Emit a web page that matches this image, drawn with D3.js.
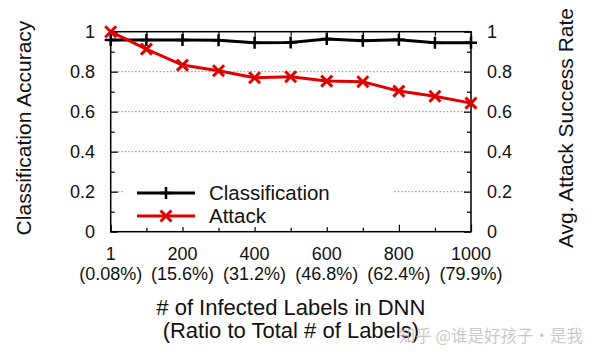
<!DOCTYPE html>
<html><head><meta charset="utf-8">
<script src="https://cdn.jsdelivr.net/npm/d3@7/dist/d3.min.js"></script>
<style>html,body{margin:0;padding:0;background:#fff;}svg{display:block;font-family:"Liberation Sans",Arial,Helvetica,sans-serif;}</style>
</head><body><div id="chart"></div>
<script>
const labels = [1, 100, 200, 300, 400, 500, 600, 700, 800, 900, 1000];
const classification = [0.958, 0.958, 0.958, 0.957, 0.945, 0.946, 0.963, 0.955, 0.960, 0.945, 0.945];
const attack = [1.0, 0.913, 0.833, 0.805, 0.770, 0.775, 0.753, 0.750, 0.703, 0.677, 0.643];
const xTickValues = [1, 200, 400, 600, 800, 1000];
const xTickRatios = ["(0.08%)", "(15.6%)", "(31.2%)", "(46.8%)", "(62.4%)", "(79.9%)"];
const yTickValues = [0, 0.2, 0.4, 0.6, 0.8, 1];
const yTickLabels = ["0", "0.2", "0.4", "0.6", "0.8", "1"];
const seriesNames = ["Classification", "Attack"];

const W = 600, H = 361;
const L = 110.7, R = 471, T = 31.7, B = 231.7;
const svg = d3.select("#chart").append("svg").attr("width", W).attr("height", H);
const x = d3.scaleLinear().domain([1, 1000]).range([L, R]);
const y = d3.scaleLinear().domain([0, 1]).range([B, T]);

// gridlines
svg.append("g").selectAll("line").data([0.2, 0.4, 0.6, 0.8]).join("line")
  .attr("x1", L).attr("x2", R).attr("y1", d => y(d)).attr("y2", d => y(d))
  .attr("stroke", "#888").attr("stroke-width", 1).attr("stroke-dasharray", "1.5,2");

// minor/major ticks via axes (inward)
const tickG = svg.append("g");
function axisNoText(g){ g.selectAll("text").remove(); g.select(".domain").remove(); g.selectAll("line").attr("stroke","#000").attr("stroke-width",1.2); }
tickG.append("g").attr("transform", `translate(${L},0)`).call(d3.axisLeft(y).tickValues(yTickValues).tickSize(-7)).call(axisNoText);
tickG.append("g").attr("transform", `translate(${L},0)`).call(d3.axisLeft(y).tickValues([0.1,0.3,0.5,0.7,0.9]).tickSize(-4)).call(axisNoText);
tickG.append("g").attr("transform", `translate(${R},0)`).call(d3.axisRight(y).tickValues(yTickValues).tickSize(-7)).call(axisNoText);
tickG.append("g").attr("transform", `translate(${R},0)`).call(d3.axisRight(y).tickValues([0.1,0.3,0.5,0.7,0.9]).tickSize(-4)).call(axisNoText);
tickG.append("g").attr("transform", `translate(0,${B})`).call(d3.axisBottom(x).tickValues(xTickValues).tickSize(-7)).call(axisNoText);
tickG.append("g").attr("transform", `translate(0,${B})`).call(d3.axisBottom(x).tickValues([100,300,500,700,900]).tickSize(-4)).call(axisNoText);
tickG.append("g").attr("transform", `translate(0,${T})`).call(d3.axisTop(x).tickValues(xTickValues).tickSize(-7)).call(axisNoText);
tickG.append("g").attr("transform", `translate(0,${T})`).call(d3.axisTop(x).tickValues([100,300,500,700,900]).tickSize(-4)).call(axisNoText);

// legend background
const legX = 124, legW = 268;
svg.append("rect").attr("x", legX).attr("y", 180).attr("width", legW).attr("height", 47).attr("fill", "#fff");

// frame
svg.append("rect").attr("x", L).attr("y", T).attr("width", R - L).attr("height", B - T)
  .attr("fill", "none").attr("stroke", "#000").attr("stroke-width", 1.5);

// tick labels
const fs = 18;
svg.append("g").selectAll("text").data(yTickValues).join("text")
  .attr("x", 95).attr("y", d => y(d)).attr("dy", "0.36em").attr("text-anchor", "end")
  .attr("font-size", fs).attr("fill", "#111").text((d, i) => yTickLabels[i]);
svg.append("g").selectAll("text").data(yTickValues).join("text")
  .attr("x", 487).attr("y", d => y(d)).attr("dy", "0.36em").attr("text-anchor", "start")
  .attr("font-size", fs).attr("fill", "#111").text((d, i) => yTickLabels[i]);
const xl = svg.append("g").selectAll("g").data(xTickValues).join("g");
xl.append("text").attr("x", d => x(d)).attr("y", 260).attr("text-anchor", "middle")
  .attr("font-size", fs).attr("fill", "#111").text(d => d);
xl.append("text").attr("x", d => x(d)).attr("y", 280).attr("text-anchor", "middle")
  .attr("font-size", fs).attr("fill", "#111").text((d, i) => xTickRatios[i]);

// axis titles
svg.append("text").attr("transform", `translate(31,128) rotate(-90)`).attr("text-anchor", "middle")
  .attr("font-size", 21).attr("fill", "#111").text("Classification Accuracy");
svg.append("text").attr("transform", `translate(573,128) rotate(-90)`).attr("text-anchor", "middle")
  .attr("font-size", 21).attr("fill", "#111").text("Avg. Attack Success Rate");
svg.append("text").attr("x", (L+R)/2).attr("y", 315).attr("text-anchor", "middle")
  .attr("font-size", 22).attr("fill", "#111").text("# of Infected Labels in DNN");
svg.append("text").attr("x", (L+R)/2).attr("y", 338).attr("text-anchor", "middle")
  .attr("font-size", 22).attr("fill", "#111").text("(Ratio to Total # of Labels)");

// series
const line = d3.line().x((d, i) => x(labels[i])).y(d => y(d));
svg.append("path").datum(classification).attr("d", line).attr("fill", "none").attr("stroke", "#000").attr("stroke-width", 3);
svg.append("path").datum(attack).attr("d", line).attr("fill", "none").attr("stroke", "#e00000").attr("stroke-width", 3);

function plus(g, cx, cy, s, color){
  g.append("path").attr("d", `M${cx-s},${cy}H${cx+s}M${cx},${cy-s}V${cy+s}`).attr("stroke", color).attr("stroke-width", 2.5).attr("fill","none");
}
function cross(g, cx, cy, s, color){
  g.append("path").attr("d", `M${cx-s},${cy-s}L${cx+s},${cy+s}M${cx-s},${cy+s}L${cx+s},${cy-s}`).attr("stroke", color).attr("stroke-width", 3).attr("fill","none");
}
const mk = svg.append("g");
classification.forEach((v, i) => plus(mk, x(labels[i]), y(v), 6, "#000"));
attack.forEach((v, i) => cross(mk, x(labels[i]), y(v), 5.5, "#e00000"));

// legend
const lg = svg.append("g");
const legRows = [193, 216];
const legColors = ["#000", "#e00000"];
seriesNames.forEach((n, i) => {
  lg.append("line").attr("x1", 137).attr("x2", 195).attr("y1", legRows[i]).attr("y2", legRows[i])
    .attr("stroke", legColors[i]).attr("stroke-width", 3);
  if (i === 0) plus(lg, 166, legRows[i], 6, legColors[i]); else cross(lg, 166, legRows[i], 5.5, legColors[i]);
  lg.append("text").attr("x", 209).attr("y", legRows[i]).attr("dy", "0.36em").attr("font-size", 20.5)
    .attr("fill", "#111").text(n);
});

// watermark
svg.append("text").attr("x", 583).attr("y", 342).attr("text-anchor", "end")
  .attr("font-family", "'Noto Sans CJK SC', sans-serif").attr("font-size", 16.5)
  .attr("fill", "#bbb").attr("fill-opacity", 0.8).text("知乎 @谁是好孩子·是我");
</script></body></html>
